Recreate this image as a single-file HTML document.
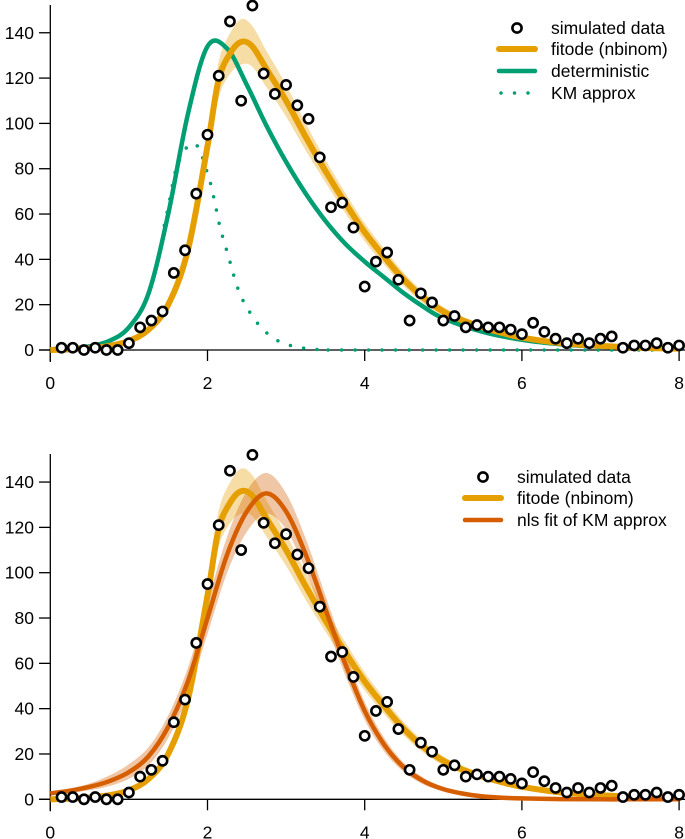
<!DOCTYPE html>
<html><head><meta charset="utf-8"><style>
html,body{margin:0;padding:0;background:#fff;}
svg{display:block;font-family:"Liberation Sans",Arial,sans-serif;}
</style></head><body>
<svg id="chart" width="685" height="839" viewBox="0 0 685 839" xmlns="http://www.w3.org/2000/svg"></svg>
<script>
// ---- data ----
const obsValues = [1,1,0,1,0,0,3,10,13,17,34,44,69,95,121,145,110,152,122,113,117,108,102,85,63,65,54,28,39,43,31,13,25,21,13,15,10,11,10,10,9,7,12,8,5,3,5,3,5,6,1,2,2,3,1,2];
const obsStep = 1/7;
const fitT = [0,0.25,0.5,0.75,1,1.25,1.5,1.75,2,2.14,2.29,2.43,2.57,2.75,3,3.25,3.5,3.75,4,4.25,4.5,4.75,5,5.25,5.5,5.75,6,6.5,7,7.5,8];
const fitV = [0,0.3,0.8,1.8,4,9,20,44,90,119,131,136,134,124,110,94,79,65,52,41,31,23,17,13,10,7.5,5.5,3,1.8,1,0.6];
const fitLo = [0,0.1,0.4,1.2,3,7.5,17.5,40,84,111,122,126,125,116,103,88,74,60.5,48,37.5,28,20.5,15,11.3,8.5,6.3,4.5,2.2,1.2,0.6,0.3];
const fitHi = [0,0.5,1.2,2.4,5,10.5,22.5,48,96,127,140,146,143,132,117,100,84,69.5,56,44.5,34,25.5,19,14.7,11.5,8.7,6.5,3.8,2.4,1.4,0.9];
const detT = [0,0.25,0.5,0.75,1,1.25,1.5,1.75,2,2.25,2.5,2.75,3,3.25,3.5,3.75,4,4.25,4.5,4.75,5,5.5,6,6.5,7,7.5,8];
const detV = [0.3,0.7,1.6,4,10,25,60,104,134,133,117,99,83,69,57,47,39,32,25,19,14,8,4.5,2.5,1.5,0.8,0.5];
const kmT = [1.45,1.5,1.6,1.68,1.78,1.9,1.95,2,2.05,2.1,2.16,2.21,2.26,2.31,2.35,2.41,2.48,2.57,2.68,2.81,2.96,3.12,3.29,3.5,4,8];
const kmV = [55,63,80,86,91,89,83,78,72,64,54,48,42,36,31,25,20,15,10,6,3,1.5,0.5,0.1,0,0];
const nlsT = [0,0.25,0.5,0.75,1,1.25,1.5,1.75,2,2.25,2.5,2.75,3,3.25,3.5,3.75,4,4.25,4.5,4.75,5,5.25,5.5,5.75,6,6.5,7,7.5,8];
const nlsV = [2.6,3.8,5.5,8,12,19,32,52,80,108,127,135,127,108,84,60,39,24,14,8,4.5,2.5,1.3,0.7,0.4,0.1,0,0,0];
const nlsLo = [2,2.8,4,5.8,9,15,27,46,73,100,118,126,119,101,78,55,35,21,12,6.5,3.5,1.8,0.9,0.4,0.2,0,0,0,0];
const nlsHi = [3.2,4.8,7,10.5,15.5,23,37,58,87,116,136,144,135,115,90,65,43,27,16,9.5,5.5,3.2,1.7,1,0.6,0.2,0.1,0,0];
const xTicks = [0,2,4,6,8];
const yTicks = [0,20,40,60,80,100,120,140];

const svg = document.getElementById('chart');
const NS = 'http://www.w3.org/2000/svg';
function mk(tag, attrs, parent){
  const e = document.createElementNS(NS, tag);
  for (const k in attrs) e.setAttribute(k, attrs[k]);
  (parent||svg).appendChild(e);
  return e;
}
const X = t => 50.3 + 78.6 * t;
function makeY(y0){ return v => y0 - 2.266 * v; }
function pts(ts, vs, Y){ return ts.map((t,i)=>[X(t), Y(vs[i])]); }
function smooth(p, start){
  let d = (start||'M') + p[0][0].toFixed(2)+' '+p[0][1].toFixed(2);
  for (let i=0;i<p.length-1;i++){
    const p0=p[Math.max(0,i-1)], p1=p[i], p2=p[i+1], p3=p[Math.min(p.length-1,i+2)];
    const c1x=p1[0]+(p2[0]-p0[0])/6, c1y=p1[1]+(p2[1]-p0[1])/6;
    const c2x=p2[0]-(p3[0]-p1[0])/6, c2y=p2[1]-(p3[1]-p1[1])/6;
    d += ' C'+c1x.toFixed(2)+' '+c1y.toFixed(2)+' '+c2x.toFixed(2)+' '+c2y.toFixed(2)+' '+p2[0].toFixed(2)+' '+p2[1].toFixed(2);
  }
  return d;
}
function linePath(ts, vs, Y){ return smooth(pts(ts,vs,Y)); }
function bandPath(ts, lo, hi, Y){
  const up = pts(ts,hi,Y), dn = pts(ts,lo,Y).reverse();
  return smooth(up) + ' ' + smooth(dn,'L') + ' Z';
}

function panel(name, y0, top){
  const Y = makeY(y0);
  const g = mk('g', {});
  
  
  const ax = mk('g', {stroke:'#000','stroke-width':1.3,fill:'none'}, g);
  
  
  mk('line', {x1:50.3,y1:top,x2:50.3,y2:y0+12}, ax);
  mk('line', {x1:39,y1:y0,x2:685,y2:y0}, ax);
  xTicks.forEach(t=>{
    const l = mk('line', {x1:X(t),y1:y0,x2:X(t),y2:y0+11}, ax);
    
    
    const tx = mk('text', {x:X(t),y:y0+39,'text-anchor':'middle','font-size':17.5,fill:'#000'}, g);
    
    
    tx.textContent = t;
  });
  yTicks.forEach(v=>{
    const l = mk('line', {x1:50.3,y1:Y(v),x2:39,y2:Y(v)}, ax);
    
    
    const tx = mk('text', {x:34,y:Y(v)+6,'text-anchor':'end','font-size':17.5,fill:'#000'}, g);
    
    
    tx.textContent = v;
  });
  return {g, Y};
}

function points(g, Y){
  const pg = mk('g', {fill:'#fff',stroke:'#000','stroke-width':2.6}, g);
  
  
  obsValues.forEach((v,i)=>{
    const c = mk('circle', {cx:X((i+1)*obsStep),cy:Y(v),r:4.6}, pg);
    
    
  });
}
function legendRow(g, kind, color, x, y, label){
  if (kind==='pt'){
    const c = mk('circle', {cx:x+18,cy:y,r:4.6,fill:'#fff',stroke:'#000','stroke-width':2.6}, g);
    
    
  } else {
    const l = mk('line', {x1:x,y1:y,x2:x+36,y2:y,stroke:color,'stroke-width':kind==='thick'?6:4.5,'stroke-linecap':'round','stroke-dasharray':kind==='dot'?'0 13.5':'none'}, g);
    if (kind==='dot'){ l.setAttribute('stroke-width',3.5); l.setAttribute('x1',x+2); }
    
    
  }
  const t = mk('text', {x:x+52,y:y+6,'font-size':17.5,fill:'#000'}, g);
  
  
  t.textContent = label;
}

// ---- top panel ----
const P1 = panel('top-panel', 350, 5);
let e;
e = mk('path', {d:bandPath(fitT,fitLo,fitHi,P1.Y),fill:'rgba(230,159,0,0.35)',stroke:'none'}, P1.g);


e = mk('path', {d:linePath(kmT,kmV,P1.Y),fill:'none',stroke:'#009E73','stroke-width':3.5,'stroke-linecap':'round','stroke-dasharray':'0 13.5'}, P1.g);


e = mk('path', {d:linePath(detT,detV,P1.Y),fill:'none',stroke:'#009E73','stroke-width':4.5,'stroke-linejoin':'round'}, P1.g);


e = mk('path', {d:linePath(fitT,fitV,P1.Y),fill:'none',stroke:'#E69F00','stroke-width':6,'stroke-linejoin':'round'}, P1.g);


points(P1.g, P1.Y);
const L1 = mk('g', {}, P1.g);


legendRow(L1,'pt','#000',499,28,'simulated data');
legendRow(L1,'thick','#E69F00',499,49,'fitode (nbinom)');
legendRow(L1,'line','#009E73',499,71,'deterministic');
legendRow(L1,'dot','#009E73',499,93,'KM approx');

// ---- bottom panel ----
const P2 = panel('bottom-panel', 799.3, 454);
e = mk('path', {d:bandPath(fitT,fitLo,fitHi,P2.Y),fill:'rgba(230,159,0,0.35)',stroke:'none'}, P2.g);


e = mk('path', {d:bandPath(nlsT,nlsLo,nlsHi,P2.Y),fill:'rgba(213,94,0,0.35)',stroke:'none'}, P2.g);


e = mk('path', {d:linePath(fitT,fitV,P2.Y),fill:'none',stroke:'#E69F00','stroke-width':6,'stroke-linejoin':'round'}, P2.g);


e = mk('path', {d:linePath(nlsT,nlsV,P2.Y),fill:'none',stroke:'#D55E00','stroke-width':4.5,'stroke-linejoin':'round'}, P2.g);


points(P2.g, P2.Y);
const L2 = mk('g', {}, P2.g);


legendRow(L2,'pt','#000',465,477,'simulated data');
legendRow(L2,'thick','#E69F00',465,498,'fitode (nbinom)');
legendRow(L2,'line','#D55E00',465,520,'nls fit of KM approx');
</script>
</body></html>
